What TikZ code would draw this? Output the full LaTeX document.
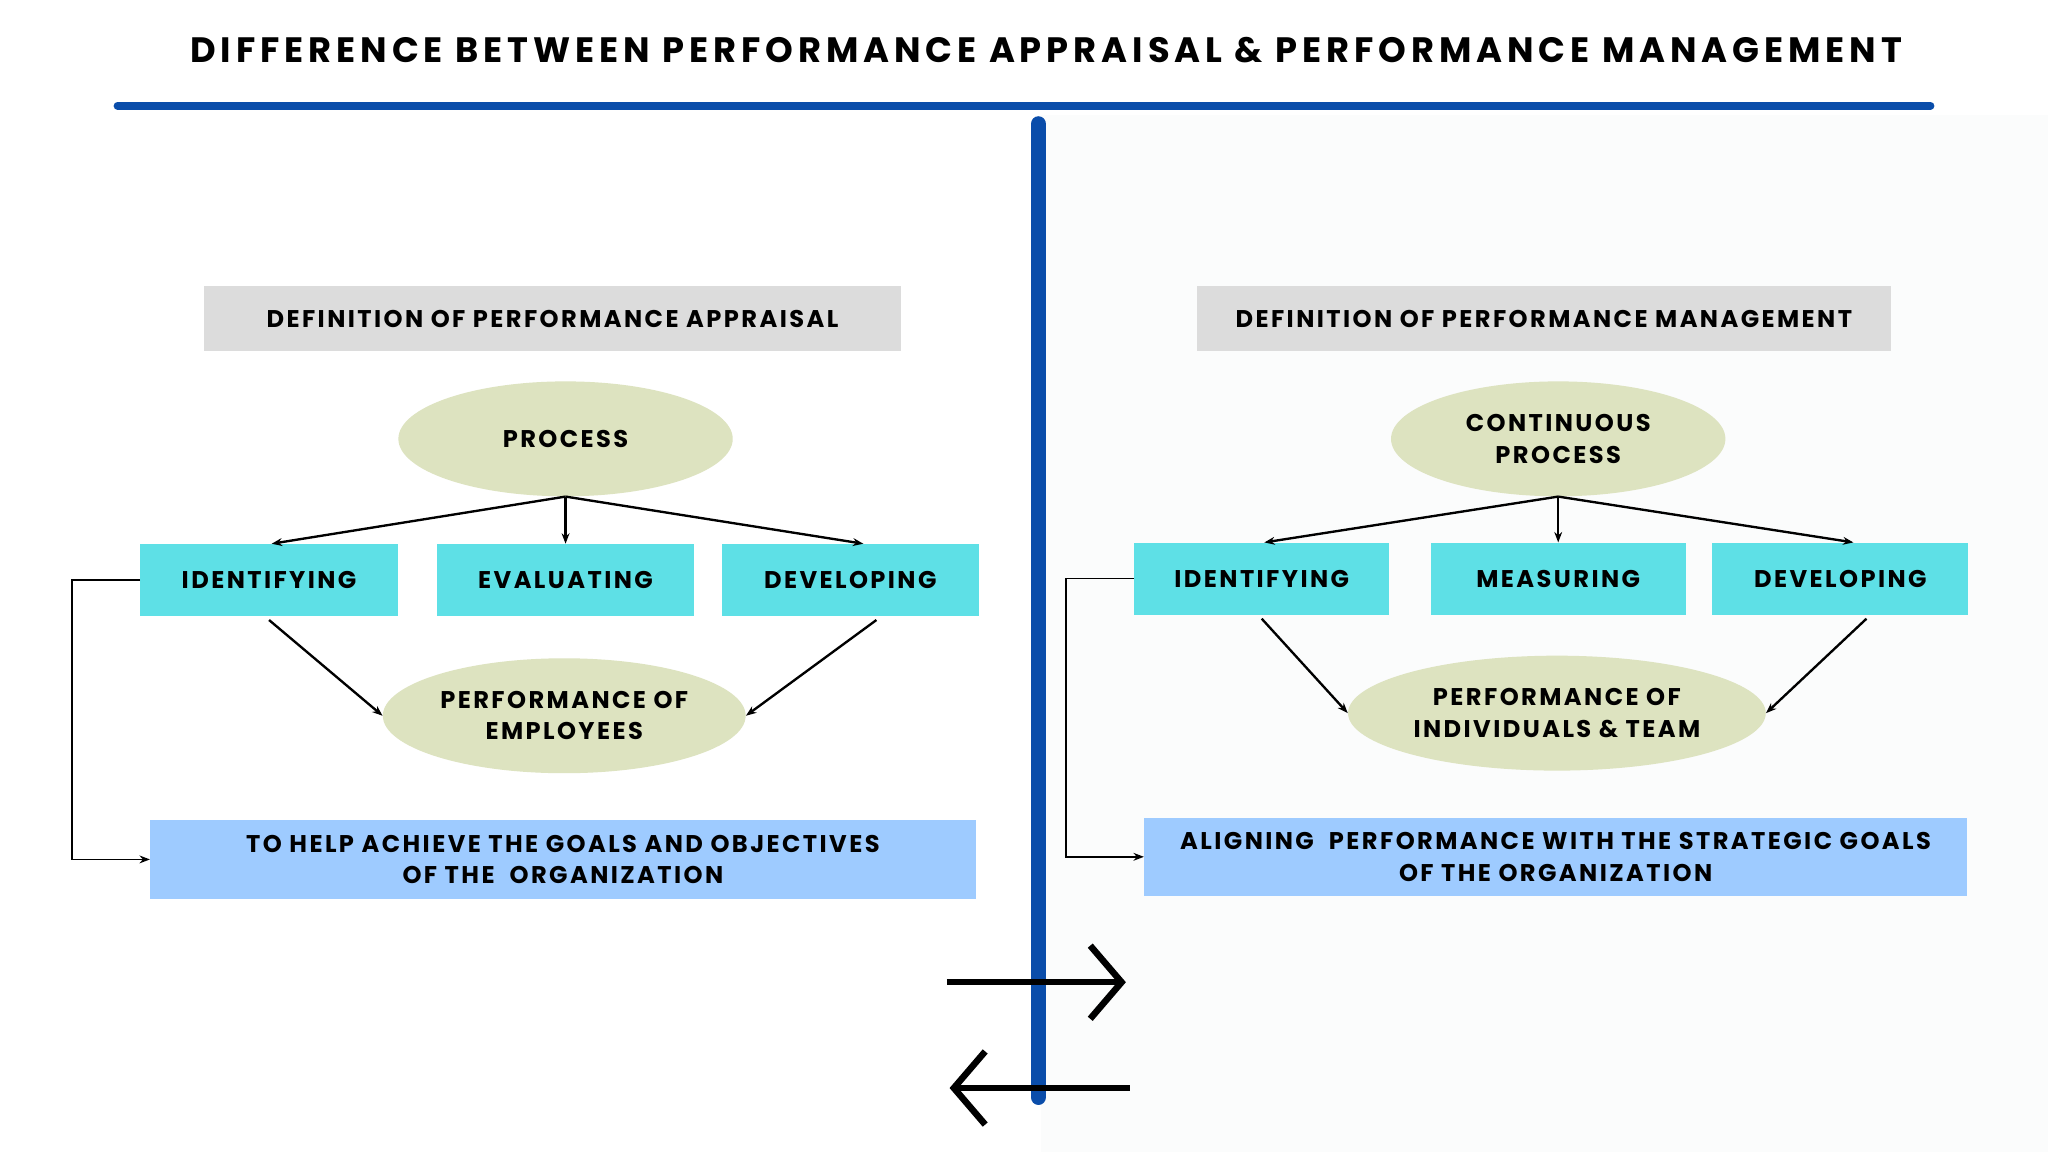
\documentclass[tikz,border=0pt]{standalone}
\usepackage{fontspec}
\setmainfont{Poppins}[LetterSpace=10]
\usetikzlibrary{positioning}
\usetikzlibrary{arrows.meta}
\usetikzlibrary{shapes.geometric}
\definecolor{defgray}{HTML}{DCDCDC}
\definecolor{ovalgreen}{HTML}{DDE3C0}
\definecolor{stepcyan}{HTML}{5EE0E6}
\definecolor{goalblue}{HTML}{9ECBFF}
\definecolor{linkblue}{HTML}{0A4DAA}

\begin{document}
\begin{tikzpicture}[x=1pt,y=-1pt,
defnode/.style={rectangle, fill=defgray, minimum width=534pt, minimum height=50pt, font=\fontsize{18.5}{20}\selectfont\bfseries},
ovalnode/.style={ellipse, fill=ovalgreen, minimum width=256pt, minimum height=88pt, align=center, font=\fontsize{18.5}{24}\selectfont\bfseries},
stepnode/.style={rectangle, fill=stepcyan, minimum width=197pt, minimum height=55pt, font=\fontsize{18.5}{20}\selectfont\bfseries},
goalnode/.style={rectangle, fill=goalblue, minimum width=632pt, minimum height=60pt, align=center, font=\fontsize{18.5}{24}\selectfont\bfseries},
arr/.style={-{Stealth[length=8pt]}, line width=1.8pt},
]
\useasboundingbox (0,0) rectangle (1568,882);
\fill[white] (0,0) rectangle (1568,882);
\fill[cyan!2!gray!3] (797,88) rectangle (1568,882);

%Title and dividers
\node (title) at (801,38) {\fontsize{27}{30}\selectfont\bfseries\addfontfeatures{LetterSpace=14}DIFFERENCE BETWEEN PERFORMANCE APPRAISAL \& PERFORMANCE MANAGEMENT};
\draw[line width=6pt, linkblue, line cap=round] (90,81) -- (1478,81);
\draw[line width=12pt, linkblue, line cap=round] (795,95) -- (795,840);

%Left nodes
\node[defnode]  (defa)  at (423,244) {DEFINITION OF PERFORMANCE APPRAISAL};
\node[ovalnode] (proca) at (433,336) {PROCESS};
\node[stepnode] (ida)   at (206,444) {IDENTIFYING};
\node[stepnode] (eva)   at (433,444) {EVALUATING};
\node[stepnode] (deva)  at (651,444) {DEVELOPING};
\node[ovalnode] (perfa) at (432,548) {PERFORMANCE OF\\EMPLOYEES};
\node[goalnode] (goala) at (431,658) {TO HELP ACHIEVE THE GOALS AND OBJECTIVES\\OF THE\ \ ORGANIZATION};

%Right nodes
\node[defnode, minimum width=531pt]  (defm)  at (1182,244) {DEFINITION OF PERFORMANCE MANAGEMENT};
\node[ovalnode] (procm) at (1193,336) {CONTINUOUS\\PROCESS};
\node[stepnode, minimum width=195pt] (idm)   at (966,443) {IDENTIFYING};
\node[stepnode, minimum width=195pt] (meam)  at (1193,443) {MEASURING};
\node[stepnode, minimum width=196pt] (devm)  at (1409,443) {DEVELOPING};
\node[ovalnode] (perfm) at (1192,546) {PERFORMANCE OF\\INDIVIDUALS \& TEAM};
\node[goalnode, minimum width=630pt] (goalm) at (1191,656) {ALIGNING\ \ PERFORMANCE WITH THE STRATEGIC GOALS\\OF THE ORGANIZATION};

%Lines
\foreach \s in {a,m}{
  \draw[arr] (proc\s.south) -- ([xshift=2pt]id\s.north);
  \draw[arr] (proc\s.south) -- (proc\s.south |- id\s.north);
  \draw[arr] (proc\s.south) -- ([xshift=10pt]dev\s.north);
  \draw[arr] ([yshift=-3pt]id\s.south) -- (perf\s.west);
  \draw[arr] ([xshift=20pt,yshift=-3pt]dev\s.south) -- (perf\s.east);
}
\draw[arr, line width=1.3pt] (ida.west) -- ++(-52,0) |- (goala.west);
\draw[arr, line width=1.3pt] (idm.west) -- ++(-52,0) |- (goalm.west);

%Exchange arrows
\coordinate (xa) at (725,752);
\coordinate (xb) at (862,752);
\coordinate (ya) at (865,833);
\coordinate (yb) at (727,833);
\draw[line width=5pt, -{Straight Barb[length=24pt, width=56pt, line width=5pt]}] (xa) -- (xb);
\draw[line width=5pt, -{Straight Barb[length=24pt, width=56pt, line width=5pt]}] (ya) -- (yb);
\end{tikzpicture}
\end{document}
